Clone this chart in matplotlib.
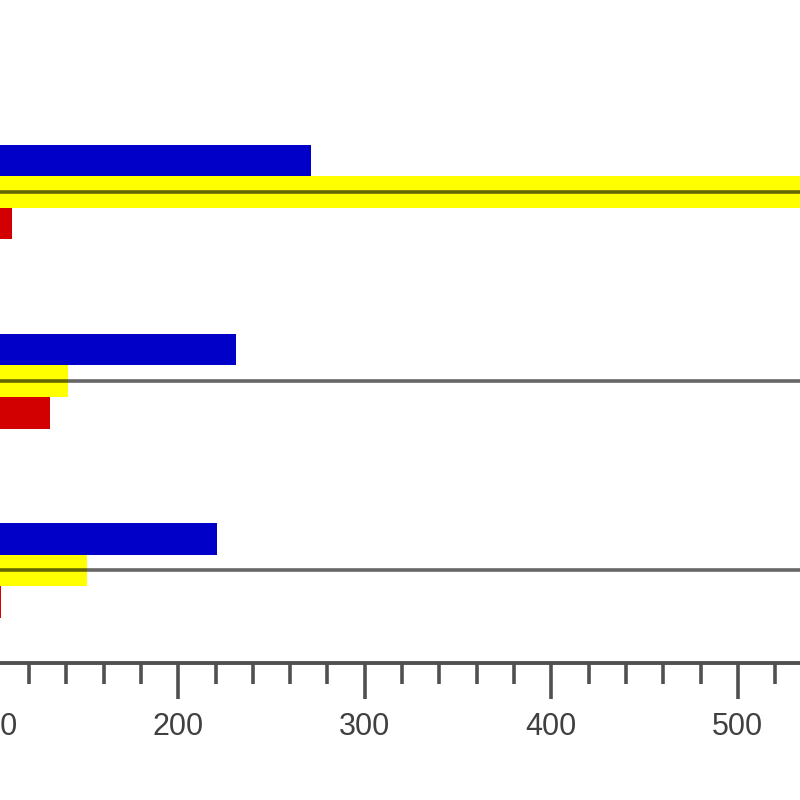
import matplotlib.pyplot as plt
from matplotlib.ticker import MultipleLocator

# three categories, top to bottom; each has three series
categories = ["A", "B", "C"]
blue_vals = [271, 231, 221]
yellow_vals = [560, 141, 151]
red_vals = [111, 131, 105]

BLUE = "#0000c8"
YELLOW = "#ffff00"
RED = "#d20000"

fig = plt.figure(figsize=(8, 8), dpi=100)
# axes is wider than the figure: the chart is a crop of a bigger picture
ax = fig.add_axes([-8.2 / 800, 137 / 800, 932.5 / 800, 663 / 800])

h = 1 / 6
pos = range(len(categories))
ax.barh([p - h for p in pos], blue_vals, height=h, color=BLUE, zorder=1)
ax.barh(list(pos), yellow_vals, height=h, color=YELLOW, zorder=1)
ax.barh([p + h for p in pos], red_vals, height=h, color=RED, zorder=1)

ax.set_xlim(100, 600)
ax.set_ylim(2.49, -1.016)

ax.set_yticks(list(pos))
ax.set_yticklabels([])
ax.tick_params(axis="y", length=0)
ax.grid(axis="y", color="black", alpha=0.6, linewidth=2.6, zorder=3)
ax.set_axisbelow(False)

ax.xaxis.set_major_locator(MultipleLocator(100))
ax.xaxis.set_minor_locator(MultipleLocator(20))
ax.tick_params(axis="x", which="major", direction="out", length=26, width=2.6,
               color="#505050", pad=9, labelsize=22, labelcolor="#404040")
ax.tick_params(axis="x", which="minor", direction="out", length=15, width=2.6,
               color="#505050")
for lab in ax.get_xticklabels():
    lab.set_family("Liberation Sans")

for side in ["top", "left", "right"]:
    ax.spines[side].set_visible(False)
ax.spines["bottom"].set_color("#505050")
ax.spines["bottom"].set_linewidth(2.8)

fig.savefig("out.png", dpi=100)
